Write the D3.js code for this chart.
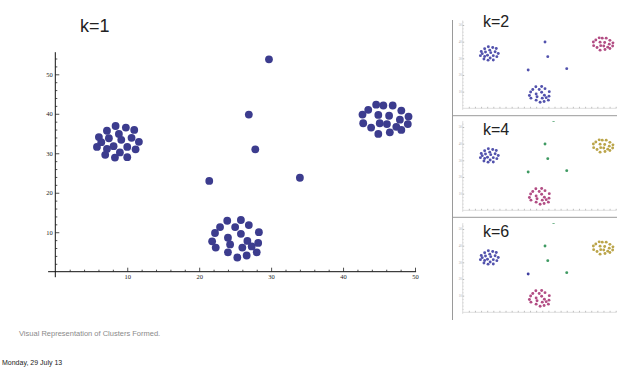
<!DOCTYPE html>
<html><head><meta charset="utf-8">
<script src="https://cdn.jsdelivr.net/npm/d3@7"></script>
<style>
html,body{margin:0;padding:0;background:#fff;}
svg{display:block;}
</style></head>
<body>
<script>
// ---------------- DATA ----------------
const clusterLeftX = [6.06,7.18,8.38,9.81,10.97,6.39,7.45,8.84,5.79,7.18,8.10,9.17,10.60,11.62,10.0,11.16,6.94,8.29,8.98,10.0];
const clusterLeftY = [34.1,35.7,36.9,36.5,35.9,32.8,33.8,34.9,31.6,31.1,31.8,33.4,33.9,32.9,31.6,31.0,29.6,28.9,30.2,29.0];
const clusterBottomX = [23.9,25.8,22.9,25.0,26.9,22.2,25.8,28.3,24.0,21.8,26.7,24.3,27.3,28.2,22.3,26.0,24.0,26.6,28.0,25.3];
const clusterBottomY = [12.9,13.1,11.3,11.3,11.8,9.8,9.6,10.0,8.6,7.7,7.8,6.9,6.4,7.3,6.1,6.1,4.9,4.1,4.9,3.6];
const clusterRightX = [44.6,45.6,46.9,43.5,48.1,42.7,44.9,46.4,49.1,47.9,42.8,45.1,46.1,49.0,43.9,47.4,44.9,46.5,48.1];
const clusterRightY = [42.3,42.1,42.1,41.0,40.8,39.8,39.7,39.5,39.3,38.5,37.6,37.6,37.4,37.4,36.5,36.7,34.9,35.3,35.9];
const outlierX = [29.7,26.9,27.8,21.4,34.0];
const outlierY = [53.8,39.8,31.0,23.0,23.8];

const xTicks = [10,20,30,40,50];
const yTicks = [10,20,30,40,50];
const minorTicks = [2,4,6,8,12,14,16,18,22,24,26,28,32,34,36,38,42,44,46,48];

const panelTitles = ["k=2","k=4","k=6"];
// cluster assignment per group for each k panel (index into palette)
const assignLeft    = [0,0,0];
const assignBottom  = [0,1,1];
const assignRight   = [1,2,2];
const assignOutlier = [[0,0,0,0,0],[3,3,3,3,3],[3,3,3,4,3]];

const mainTitle = "k=1";
const caption = "Visual Representation of Clusters Formed.";
const dateText = "Monday, 29 July 13";

// ---------------- STYLE ----------------
const mainColor = "#3c3c8e";
const palette = ["#5252ad","#b24d84","#bba54a","#3f9a62","#3f3fa0"];

const W = 638, H = 369;
const svg = d3.select("body").append("svg").attr("width",W).attr("height",H);

function pts(xs, ys){ return xs.map((x,i)=>({x:x,y:ys[i]})); }
const groups = [
  {name:"left",   p:pts(clusterLeftX,clusterLeftY)},
  {name:"bottom", p:pts(clusterBottomX,clusterBottomY)},
  {name:"right",  p:pts(clusterRightX,clusterRightY)},
  {name:"out",    p:pts(outlierX,outlierY)}
];
const allPts = groups.flatMap(g=>g.p);

// ---------------- MAIN CHART ----------------
const x = d3.scaleLinear().domain([0,50]).range([55.3,415]);
const y = d3.scaleLinear().domain([0,50]).range([271.7,74.3]);

const main = svg.append("g");
const axisColor = "#111";

// axis lines
main.append("line").attr("x1",x(-1)).attr("x2",x(50.15)).attr("y1",y(0)).attr("y2",y(0))
  .attr("stroke",axisColor).attr("stroke-width",1);
main.append("line").attr("x1",x(0)).attr("x2",x(0)).attr("y1",y(-1.4)).attr("y2",y(55.6))
  .attr("stroke",axisColor).attr("stroke-width",1);

function styleAxis(g, col, fs, fam){
  g.select(".domain").remove();
  g.selectAll("line").attr("stroke",col).attr("stroke-width",0.8);
  g.selectAll("text").attr("font-family",fam).attr("font-size",fs).attr("fill",col);
}
const serif = "'Liberation Serif','DejaVu Serif',serif";

main.append("g").attr("transform",`translate(0,${y(0)})`)
  .call(d3.axisBottom(x).tickValues(xTicks).tickSizeInner(-4).tickSizeOuter(0).tickPadding(3))
  .call(g=>styleAxis(g,"#222","6.5px",serif));
main.append("g").attr("transform",`translate(0,${y(0)})`)
  .call(d3.axisBottom(x).tickValues(minorTicks).tickSizeInner(-2).tickSizeOuter(0).tickFormat(""))
  .call(g=>styleAxis(g,"#222","6.5px",serif));
main.append("g").attr("transform",`translate(${x(0)},0)`)
  .call(d3.axisLeft(y).tickValues(yTicks).tickSizeInner(-4).tickSizeOuter(0).tickPadding(2.5))
  .call(g=>styleAxis(g,"#222","6.5px",serif));
main.append("g").attr("transform",`translate(${x(0)},0)`)
  .call(d3.axisLeft(y).tickValues(minorTicks.concat([52,54])).tickSizeInner(-2).tickSizeOuter(0).tickFormat(""))
  .call(g=>styleAxis(g,"#222","6.5px",serif));

main.append("g").selectAll("circle").data(allPts).join("circle")
  .attr("cx",d=>x(d.x)).attr("cy",d=>y(d.y)).attr("r",3.9).attr("fill",mainColor);

svg.append("text").attr("x",80).attr("y",32).text(mainTitle)
  .attr("font-family","'Liberation Sans',Arial,sans-serif").attr("font-size","18px").attr("fill","#222");

// ---------------- SMALL PANELS ----------------
const sx = d3.scaleLinear().domain([0,50]).range([462.7,615.7]);
const panelOffsets = [0,102,204];
const titleY = [26.5,135,236.5];
const frameCol = "#9a9a9a";

const defs = svg.append("defs");
panelOffsets.forEach((off,k)=>{
  const sy = d3.scaleLinear().domain([0,50]).range([108.3+off,25+off]);
  const top = (k===0 ? 20.6 : 19.3)+off, bot = off + (k<2 ? 115.5 : 120);
  defs.append("clipPath").attr("id","clip"+k).append("rect")
    .attr("x",453).attr("y",top).attr("width",170).attr("height",bot-top);
  const g = svg.append("g").attr("clip-path",`url(#clip${k})`);

  g.append("line").attr("x1",sx(0)).attr("x2",sx(50.2)).attr("y1",sy(0)).attr("y2",sy(0))
    .attr("stroke","#c8c8c8").attr("stroke-width",0.6);
  g.append("line").attr("x1",sx(0)).attr("x2",sx(0)).attr("y1",sy(-1)).attr("y2",sy(56))
    .attr("stroke","#c8c8c8").attr("stroke-width",0.6);
  g.append("g").attr("transform",`translate(0,${sy(0)})`)
    .call(d3.axisBottom(sx).tickValues(xTicks.concat(minorTicks)).tickSizeInner(-1.5).tickSizeOuter(0).tickFormat(""))
    .call(a=>styleAxis(a,"#b0b0b0","3px",serif));
  g.append("g").attr("transform",`translate(${sx(0)},0)`)
    .call(d3.axisLeft(sy).tickValues(yTicks).tickSizeInner(-1.5).tickSizeOuter(0).tickPadding(1))
    .call(a=>styleAxis(a,"#aaaaaa","3px",serif));
  g.append("g").attr("transform",`translate(${sx(0)},0)`)
    .call(d3.axisLeft(sy).tickValues(minorTicks.concat([52,54])).tickSizeInner(-0.8).tickSizeOuter(0).tickFormat(""))
    .call(a=>styleAxis(a,"#c0c0c0","3px",serif));

  const colored = [];
  groups[0].p.forEach(p=>colored.push({p, c:assignLeft[k]}));
  groups[1].p.forEach(p=>colored.push({p, c:assignBottom[k]}));
  groups[2].p.forEach(p=>colored.push({p, c:assignRight[k]}));
  groups[3].p.forEach((p,i)=>colored.push({p, c:assignOutlier[k][i]}));
  g.append("g").selectAll("circle").data(colored).join("circle")
    .attr("cx",d=>sx(d.p.x)).attr("cy",d=>sy(d.p.y)).attr("r",1.45)
    .attr("fill",d=>palette[d.c]);

  svg.append("text").attr("x",483).attr("y",titleY[k]).text(panelTitles[k])
    .attr("font-family","'Liberation Sans',Arial,sans-serif").attr("font-size","16px").attr("fill","#222");
});

// frame lines
svg.append("line").attr("x1",452.5).attr("x2",452.5).attr("y1",20).attr("y2",320)
  .attr("stroke",frameCol).attr("stroke-width",1);
[115.7,217.3].forEach(yy=>{
  svg.append("line").attr("x1",452.5).attr("x2",617).attr("y1",yy).attr("y2",yy)
    .attr("stroke",frameCol).attr("stroke-width",1);
});

// ---------------- TEXTS ----------------
svg.append("text").attr("x",19).attr("y",335.5).text(caption)
  .attr("font-family","'Liberation Sans',Arial,sans-serif").attr("font-size","7.5px").attr("fill","#8a8a8a");
svg.append("text").attr("x",2).attr("y",364.5).text(dateText)
  .attr("font-family","'Liberation Sans',Arial,sans-serif").attr("font-size","7px").attr("fill","#222");
</script>
</body></html>
